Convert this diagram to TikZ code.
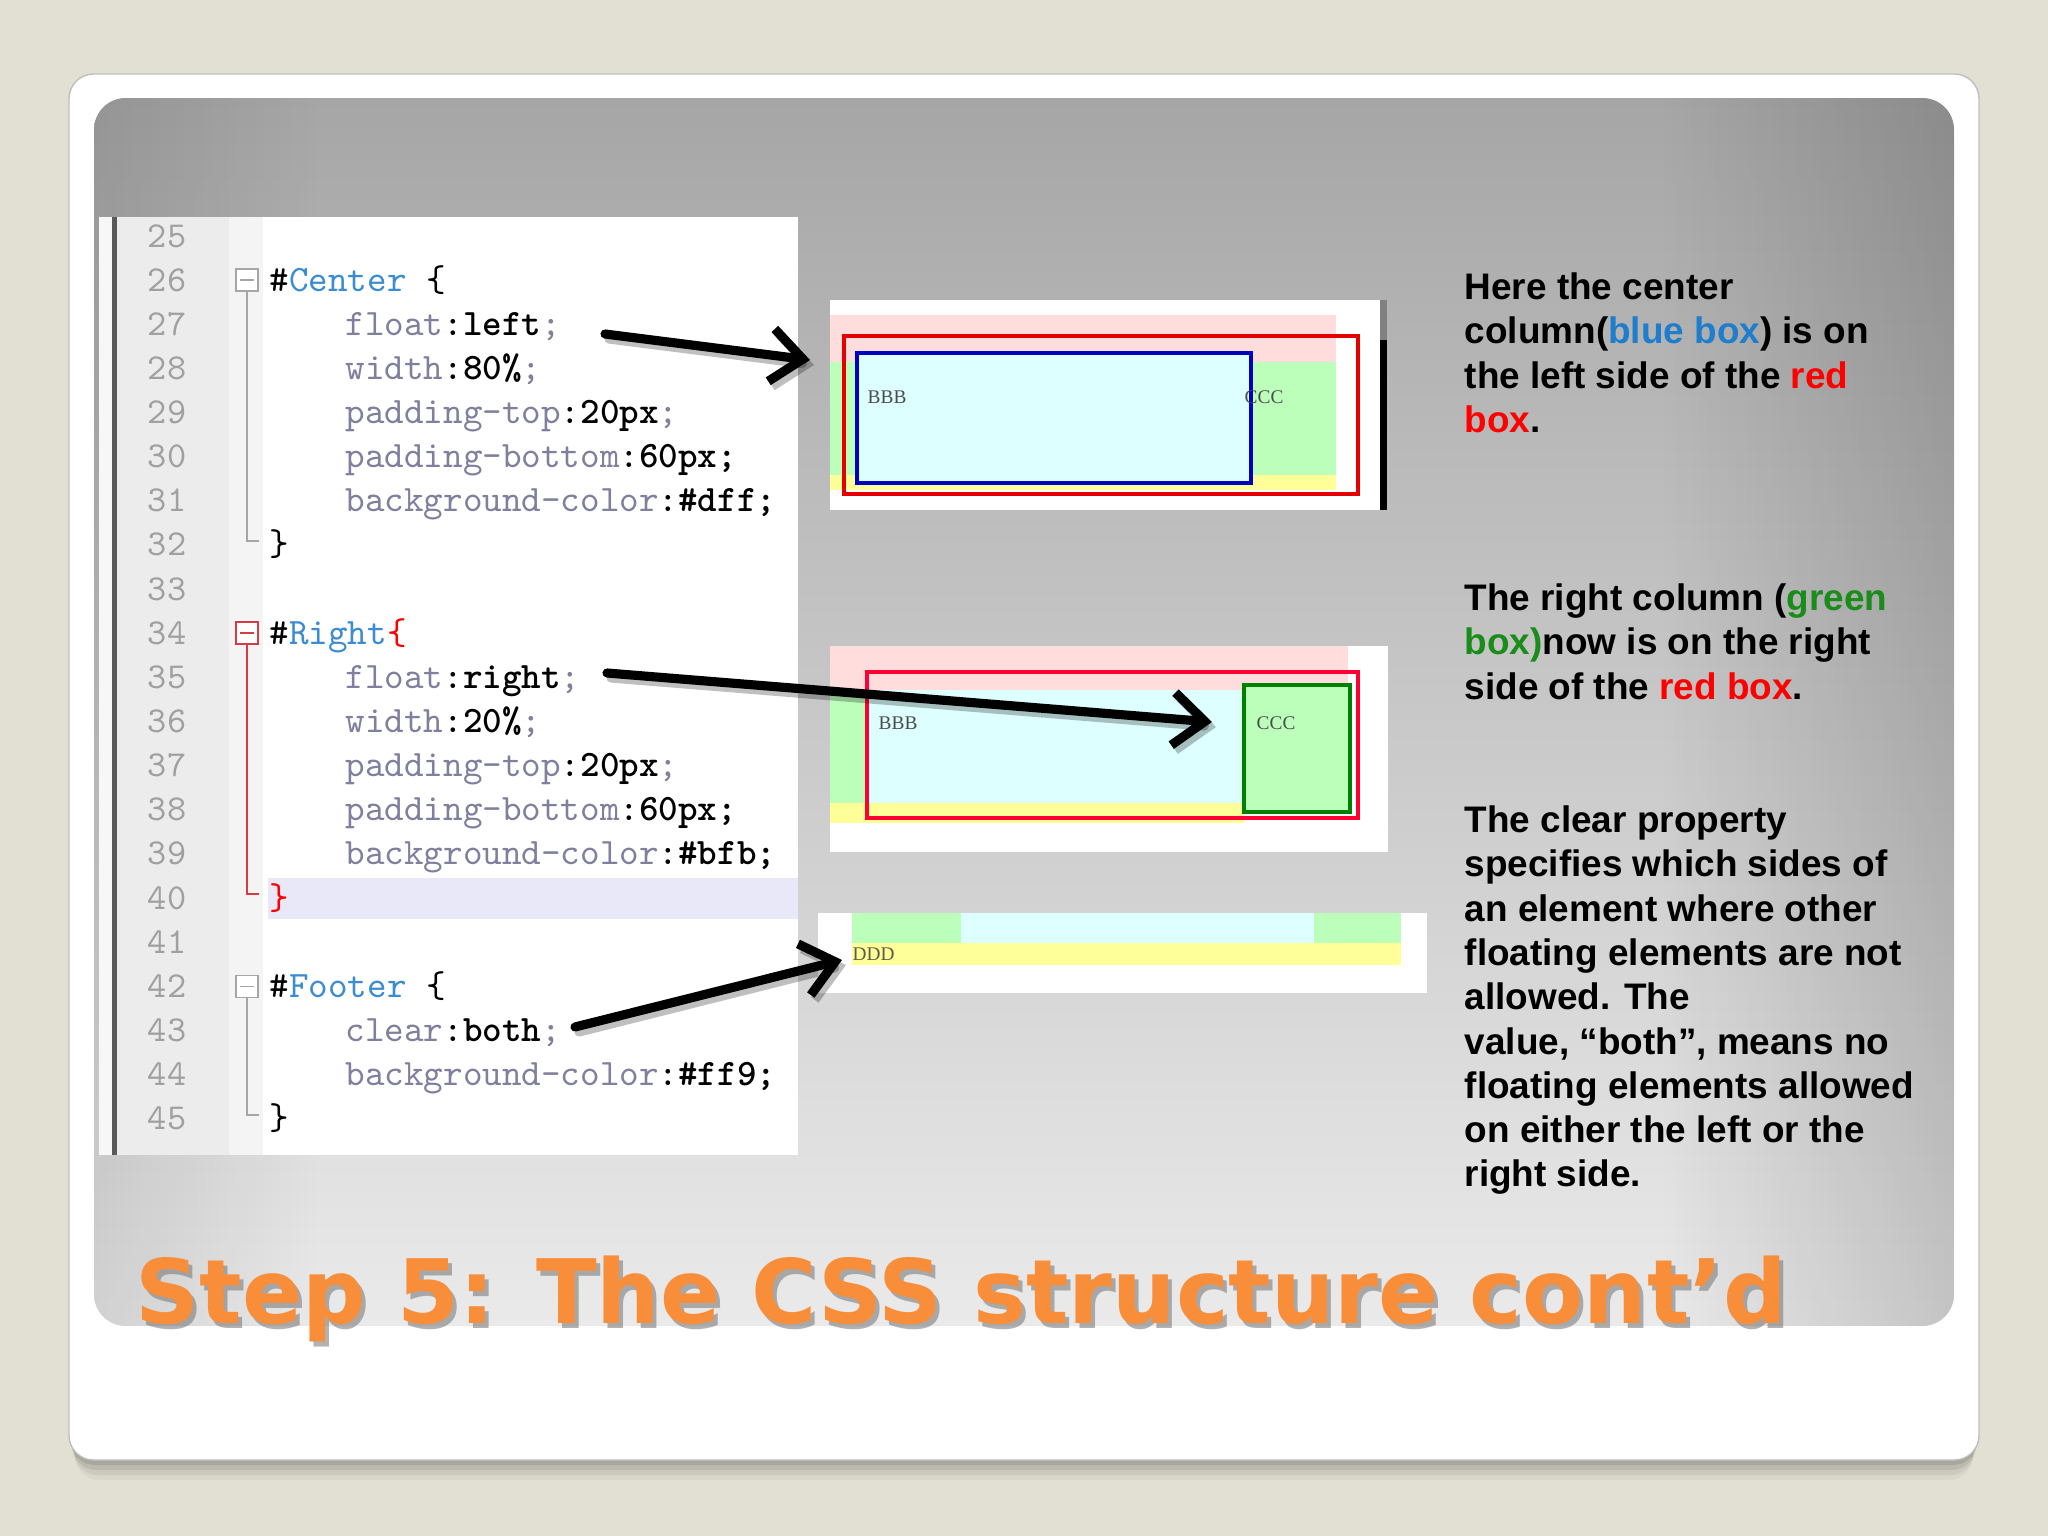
\documentclass[tikz,border=0pt]{standalone}
\usepackage{fontspec}
\setmainfont{Liberation Sans}
\newfontfamily\shotfont{Liberation Serif}
\newfontfamily\titlefont{DejaVu Sans}
\usetikzlibrary{arrows.meta,fadings}

\definecolor{slidebg}{RGB}{226,223,211}
\definecolor{paneltop}{RGB}{166,166,166}
\definecolor{panelbot}{RGB}{234,234,234}
\definecolor{titleorange}{RGB}{249,142,58}
\definecolor{noteblue}{RGB}{30,125,205}
\definecolor{notegreen}{RGB}{25,140,25}
\definecolor{propgray}{RGB}{128,128,158}
\definecolor{numgray}{RGB}{160,160,160}
\definecolor{selblue}{RGB}{60,140,210}
\definecolor{gutter}{RGB}{236,236,236}
\definecolor{foldcol}{RGB}{244,244,244}
\definecolor{hiline}{RGB}{232,232,248}
\definecolor{cssdff}{RGB}{221,255,255}
\definecolor{cssbfb}{RGB}{187,255,187}
\definecolor{cssff9}{RGB}{255,255,153}
\definecolor{cssfdd}{RGB}{255,221,221}
\definecolor{foldred}{RGB}{215,60,70}

\tikzfading[name=fade to right, left color=transparent!0, right color=transparent!100]
\tikzfading[name=fade to left, left color=transparent!100, right color=transparent!0]

\tikzset{
  linenum/.style={anchor=base, inner sep=0pt, text=numgray, font=\ttfamily\fontsize{10.4}{12}\selectfont},
  codetext/.style={anchor=base west, inner sep=0pt, font=\ttfamily\fontsize{10.6}{12}\selectfont},
  shottext/.style={anchor=base west, inner sep=0pt, text=black!70, font=\shotfont\fontsize{5.5}{6}\selectfont},
  notetext/.style={anchor=north west, inner sep=0pt, align=left, font=\bfseries\fontsize{10.5}{12.6}\selectfont},
  titletext/.style={anchor=base west, inner sep=0pt, font=\titlefont\bfseries\fontsize{25.3}{30}\selectfont},
  pointer/.style={line width=2.6pt, line cap=round, -{Straight Barb[length=9pt, width=15pt]}},
  foldline/.style={draw=gray!70, line width=0.5pt},
}
\newcommand\pn[1]{\textcolor{propgray}{#1}}
\newcommand\vl[1]{\textbf{#1}}

\begin{document}
\begin{tikzpicture}[x=0.01cm, y=-0.01cm]
  \useasboundingbox (0,0) rectangle (2048,1536);
  % slide, card and grey panel
  \fill[slidebg] (0,0) rectangle (2048,1536);
  \foreach \s/\o in {20/0.04, 15/0.06, 10/0.08, 5/0.1}
    \fill[black, opacity=\o, rounded corners=7pt] ({69+\s*0.3},{80+\s}) rectangle ({1979-\s*0.3},{1460+\s});
  \fill[white, draw=black!25, rounded corners=7pt] (69,74) rectangle (1979,1460);
  \shade[top color=paneltop, bottom color=panelbot, rounded corners=9pt] (94,98) rectangle (1954,1326);
  \begin{scope}
    \clip[rounded corners=9pt] (94,98) rectangle (1954,1326);
    \fill[black, opacity=0.10, path fading=fade to right] (94,98) rectangle (320,1326);
    \fill[black, opacity=0.16, path fading=fade to left] (1660,98) rectangle (1954,1326);
  \end{scope}

  % code listing
  \fill[white] (99,217) rectangle (798,1155);
  \fill[gutter] (99,217) rectangle (229,1155);
  \fill[foldcol] (229,217) rectangle (263,1155);
  \fill[black!3] (99,217) rectangle (112,1155);
  \fill[black!65] (112,217) rectangle (117,1155);
  \fill[hiline] (268,878) rectangle (798,919);
  \foreach \n in {25,...,45}
    \node[linenum] (ln\n) at (167,{247+44.14*(\n-25)}) {\n};

  \node[codetext] (c26) at (ln26.base -| 269,0) {\#\textcolor{selblue}{Center} \{};
  \node[codetext] (c27) at (ln27.base -| 345,0) {\pn{float}:\vl{left}\pn{;}};
  \node[codetext] (c28) at (ln28.base -| 345,0) {\pn{width}:\vl{80\%}\pn{;}};
  \node[codetext] (c29) at (ln29.base -| 345,0) {\pn{padding-top}:\vl{20px}\pn{;}};
  \node[codetext] (c30) at (ln30.base -| 345,0) {\pn{padding-bottom}:\vl{60px;}};
  \node[codetext] (c31) at (ln31.base -| 345,0) {\pn{background-color}:\vl{\#dff;}};
  \node[codetext] (c32) at (ln32.base -| 269,0) {\}};
  \node[codetext] (c34) at (ln34.base -| 269,0) {\#\textcolor{selblue}{Right}\textcolor{red}{\{}};
  \node[codetext] (c35) at (ln35.base -| 345,0) {\pn{float}:\vl{right}\pn{;}};
  \node[codetext] (c36) at (ln36.base -| 345,0) {\pn{width}:\vl{20\%}\pn{;}};
  \node[codetext] (c37) at (ln37.base -| 345,0) {\pn{padding-top}:\vl{20px}\pn{;}};
  \node[codetext] (c38) at (ln38.base -| 345,0) {\pn{padding-bottom}:\vl{60px;}};
  \node[codetext] (c39) at (ln39.base -| 345,0) {\pn{background-color}:\vl{\#bfb;}};
  \node[codetext] (c40) at (ln40.base -| 269,0) {\textcolor{red}{\}}};
  \node[codetext] (c42) at (ln42.base -| 269,0) {\#\textcolor{selblue}{Footer} \{};
  \node[codetext] (c43) at (ln43.base -| 345,0) {\pn{clear}:\vl{both}\pn{;}};
  \node[codetext] (c44) at (ln44.base -| 345,0) {\pn{background-color}:\vl{\#ff9;}};
  \node[codetext] (c45) at (ln45.base -| 269,0) {\}};

  % fold markers
  \foreach \a/\b/\col in {26/32/gray!70, 34/40/foldred, 42/45/gray!70} {
    \draw[foldline, draw=\col, fill=white] (236,{225+44.14*(\a-25)}) rectangle (258,{247+44.14*(\a-25)});
    \draw[foldline, draw=\col] (240,{236+44.14*(\a-25)}) -- (254,{236+44.14*(\a-25)});
    \draw[foldline, draw=\col] (247,{247+44.14*(\a-25)}) -- (247,{232+44.14*(\b-25)}) -- (259,{232+44.14*(\b-25)});
  }

  % preview of #Center
  \fill[white] (830,300) rectangle (1380,510);
  \fill[cssfdd] (830,315) rectangle (1336,362);
  \fill[cssbfb] (830,362) rectangle (1336,475);
  \fill[cssff9] (830,475) rectangle (1336,490);
  \fill[cssdff] (857,353) rectangle (1251,483);
  \draw[red!90!black, line width=1.1pt] (844,336) rectangle (1358,494);
  \draw[blue!75!black, line width=1.3pt] (857,353) rectangle (1251,483);
  \fill[black] (1380,300) rectangle (1387,510);
  \fill[gray] (1380,300) rectangle (1387,340);
  \node[shottext] (bbb1) at (867,403) {BBB};
  \node[shottext] (ccc1) at (1244,403) {CCC};

  % preview of #Right
  \fill[white] (830,646) rectangle (1388,852);
  \fill[cssfdd] (830,646) rectangle (1348,690);
  \fill[cssbfb] (830,690) rectangle (866,803);
  \fill[cssdff] (866,690) rectangle (1244,803);
  \fill[cssff9] (830,803) rectangle (1244,823);
  \fill[cssbfb] (1244,685) rectangle (1350,812);
  \draw[green!50!black, line width=1pt] (1244,685) rectangle (1350,812);
  \draw[red!80!magenta, line width=0.9pt] (867,672) rectangle (1358,818);
  \node[shottext] (bbb2) at (878,729) {BBB};
  \node[shottext] (ccc2) at (1256,729) {CCC};

  % preview of #Footer
  \fill[white] (818,913) rectangle (1427,993);
  \fill[cssbfb] (852,913) rectangle (961,943);
  \fill[cssdff] (961,913) rectangle (1314,943);
  \fill[cssbfb] (1314,913) rectangle (1401,943);
  \fill[cssff9] (852,943) rectangle (1401,965);
  \node[shottext, text=black!60!yellow!70!black] (ddd) at (852,960) {DDD};

  % pointers
  \coordinate (p1from) at (605,334);
  \coordinate (p1to) at (810,360);
  \coordinate (p2from) at (607,673);
  \coordinate (p2to) at (1212,722);
  \coordinate (p3from) at (575,1027);
  \coordinate (p3to) at (842,960);
  \foreach \f/\t in {p1from/p1to, p2from/p2to, p3from/p3to} {
    \draw[pointer, black, opacity=0.25, transform canvas={shift={(4,5)}}] (\f) -- (\t);
    \draw[pointer] (\f) -- (\t);
  }

  % notes
  \node[notetext] (note1) at (1464,272) {Here the center\\column(\textcolor{noteblue}{blue box}) is on\\the left side of the \textcolor{red}{red}\\\textcolor{red}{box}.};
  \node[notetext] (note2) at (1464,583) {The right column (\textcolor{notegreen}{green}\\\textcolor{notegreen}{box)}now is on the right\\side of the \textcolor{red}{red box}.};
  \node[notetext] (note3) at (1464,805) {The clear property\\specifies which sides of\\an element where other\\floating elements are not\\allowed. The\\value, “both”, means no\\floating elements allowed\\on either the left or the\\right side.};

  % title
  \node[titletext, text=black!55, opacity=0.55] (titleshadow) at (139,1328) {Step 5: The CSS structure cont’d};
  \node[titletext, text=titleorange] (title) at (135,1323) {Step 5: The CSS structure cont’d};
\end{tikzpicture}
\end{document}
